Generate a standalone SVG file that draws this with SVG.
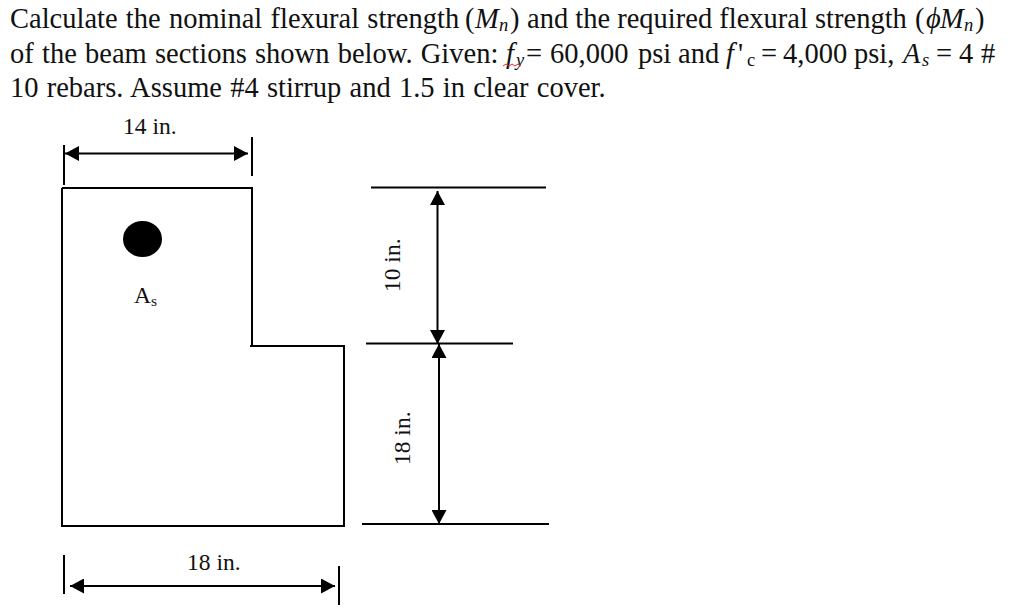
<svg xmlns="http://www.w3.org/2000/svg" width="1024" height="614" viewBox="0 0 1024 614">
<style>
text{font-family:"Liberation Serif","Times New Roman",serif;fill:#111}
.q{font-size:28.5px;word-spacing:1.1px}
.l{font-size:23.5px}
.i{font-style:italic}
.sub{font-size:18.5px}
.s{stroke:#000;stroke-width:2;fill:none}
.a{stroke:#000;stroke-width:2;fill:none;marker-start:url(#ah);marker-end:url(#ah)}
</style>
<defs>
<marker id="ah" markerUnits="userSpaceOnUse" markerWidth="15" markerHeight="15" refX="14" refY="7.5" orient="auto-start-reverse"><path d="M0 0L14 7.5L0 15Z" fill="#000"/></marker>
</defs>
<rect width="1024" height="614" fill="#fff"/>
<g id="question">
<text class="q" y="28"><tspan x="10">Calculate the nominal flexural strength</tspan><tspan x="465">(</tspan><tspan class="i" x="475">M</tspan><tspan class="i sub" x="499" dy="3">n</tspan><tspan x="510" dy="-3">)</tspan><tspan x="527" style="word-spacing:0">and the required flexural strength</tspan><tspan x="915">(</tspan><tspan class="i" x="926">ϕ</tspan><tspan class="i" x="940">M</tspan><tspan class="i sub" x="964" dy="3">n</tspan><tspan x="975" dy="-3">)</tspan></text>
<text class="q" y="63"><tspan x="10">of the beam sections shown below. Given:</tspan><tspan class="i" x="506">f</tspan><tspan class="i sub" dy="3" x="516">y</tspan><tspan dy="-3" x="526">=</tspan><tspan x="550">60,000</tspan><tspan x="638">psi</tspan><tspan x="678">and</tspan><tspan class="i" x="726">f</tspan><tspan x="738">'</tspan><tspan class="sub" dy="3" x="747">c</tspan><tspan dy="-3" x="761">=</tspan><tspan x="783">4,000</tspan><tspan x="854">psi,</tspan><tspan class="i" x="903">A</tspan><tspan class="i sub" dy="3" x="922">s</tspan><tspan dy="-3" x="936">=</tspan><tspan x="959">4</tspan><tspan x="981">#</tspan></text>
<text class="q" x="10" y="97">10 rebars. Assume #4 stirrup and 1.5 in clear cover.</text>
<path d="M503 66l3-2 3 2 3-2 3 2 3-2 3 2" stroke="#d33" stroke-width="1" fill="none"/>
</g>
<g id="beam-section">
<path class="s" d="M62 188V526H344V346H250M252 346V188H62"/>
</g>
<g id="rebar">
<ellipse cx="142.500" cy="239" rx="19.500" ry="18" fill="#000"/>
<text class="l" x="134" y="303">A<tspan font-size="15.500px" dy="3">s</tspan></text>
</g>
<g id="connectors">
<path class="s" d="M64 145V185M252 137V176M371 187.500H546M366 343.500H513M362 524H549M64 555V594M339 566V605"/>
<path class="a" d="M65 153.500H248"/>
<path class="a" d="M70 586H335"/>
<path class="a" d="M437.500 191V344"/>
<path class="a" d="M439 344V524"/>
</g>
<g id="dimension-labels">
<text class="l" x="123" y="134">14 in.</text>
<text class="l" x="187" y="570">18 in.</text>
<text class="l" transform="translate(400 292) rotate(-90)">10 in.</text>
<text class="l" transform="translate(410 465) rotate(-90)">18 in.</text>
</g>
</svg>
